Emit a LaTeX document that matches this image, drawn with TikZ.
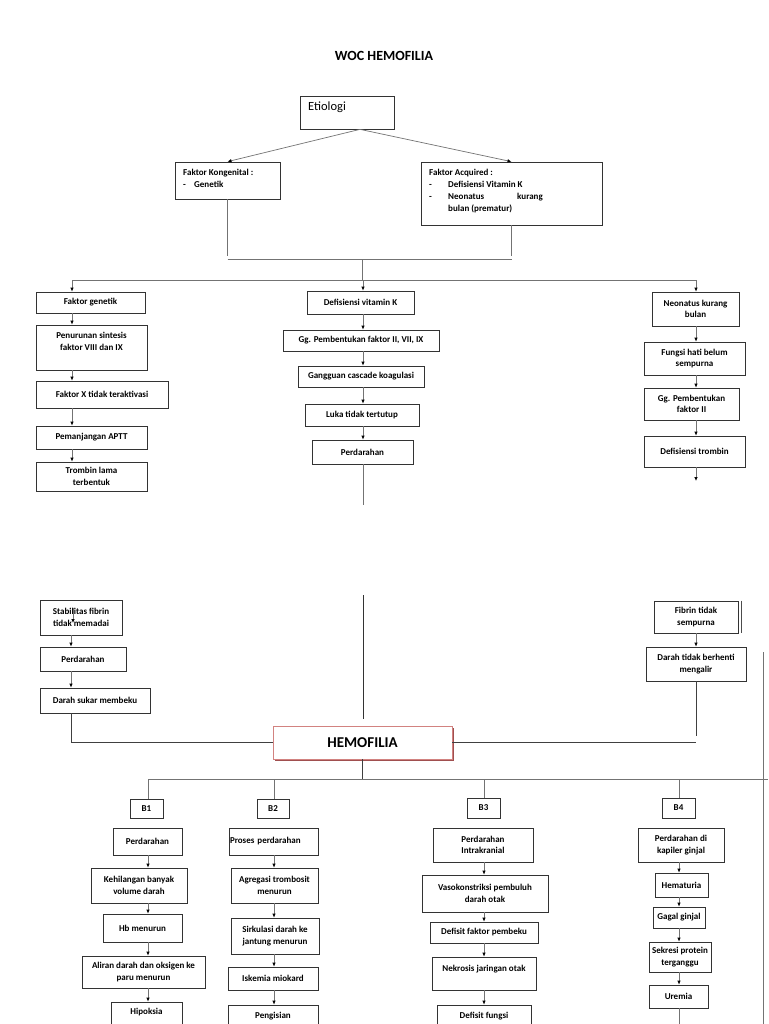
\documentclass[tikz,border=0pt]{standalone}
\usepackage{fontspec}
\setmainfont{Carlito}
\usetikzlibrary{arrows.meta,shadows}
\newcommand\mybox[7][]{\node[box,minimum width={#5pt-#3pt},minimum height={#6pt-#4pt},#1] (#2) at ({(#3+#5)/2},{(#4+#6)/2}) {#7};}
\newcommand\varr[3]{\draw[arr] (#2.south -| #1) -- (#3.north -| #1);}
\begin{document}
\begin{tikzpicture}[x=1pt,y=-1pt,
 box/.style={draw=black!80,line width=0.7pt,fill=white,align=center,inner sep=1pt,font=\fontsize{9}{11.5}\selectfont\bfseries},
 lbl/.style={align=center,inner sep=0pt,font=\fontsize{9}{11.5}\selectfont\bfseries},
 ln/.style={draw=black!55,line width=0.7pt},
 arr/.style={ln,-{Latex[length=4pt,width=3.5pt,black]}},
 lt/.style={anchor=base west,inner sep=0pt,font=\fontsize{9}{11}\selectfont\bfseries},
]
\useasboundingbox (0,0) rectangle (768,1024);
\fill[white] (0,0) rectangle (768,1024);

% title
\node[font=\fontsize{14}{16}\selectfont\bfseries] (title) at (384,56) {WOC HEMOFILIA};

% etiologi
\mybox{etio}{300}{96}{394}{129}{}
\node[anchor=base west,inner sep=0pt,font=\fontsize{12.5}{14}\selectfont] (etiot) at (308,111) {Etiologi};
\mybox{kong}{175}{162}{280}{199}{}
\node[lt] (k1) at (183,176) {Faktor Kongenital :};
\node[lt] (k2) at (183,188) {-};
\node[lt] (k3) at (194,188) {Genetik};
\mybox{acq}{421}{162}{602}{225}{}
\node[lt] (a1) at (429,176) {Faktor Acquired :};
\node[lt] (a2) at (429,188) {-};
\node[lt] (a3) at (448,188) {Defisiensi Vitamin K};
\node[lt] (a4) at (429,200) {-};
\node[lt] (a5) at (448,200) {Neonatus};
\node[lt] (a6) at (517,200) {kurang};
\node[lt] (a7) at (448,212) {bulan (prematur)};

\draw[arr] ([xshift=13pt]etio.south) -- (kong.north);
\draw[arr] ([xshift=13pt]etio.south) -- (acq.north);

\coordinate (j1) at (362,259);
\coordinate (j2) at (362,280);
\coordinate (xl) at (72,280);
\coordinate (xm) at (363,280);
\coordinate (xr) at (696,280);
\draw[ln] (kong.south) -- (kong.south |- 0,256);
\draw[ln] (acq.south) -- (acq.south |- 0,256);
\draw[ln] (kong.south |- j1) -- (acq.south |- j1);
\draw[ln] (j1) -- (j2);
\draw[ln] (xl) -- (xr);

% left column
\mybox{gen}{36}{292}{145}{313}{Faktor genetik}
\mybox[label={[lbl,yshift=6pt]center:Penurunan sintesis\\faktor VIII dan IX}]{pen}{36}{325}{147}{370}{}
\mybox{fx}{36}{381}{168}{408}{Faktor X tidak teraktivasi}
\mybox{aptt}{36}{426}{147}{449}{Pemanjangan APTT}
\mybox{trom}{36}{462}{147}{491}{Trombin lama\\terbentuk}
\draw[arr] (xl) -- (gen.north -| xl);
\varr{xl}{gen}{pen}
\varr{xl}{pen}{fx}
\varr{xl}{fx}{aptt}
\varr{xl}{aptt}{trom}

% middle column
\mybox{dvk}{307}{291}{414}{314}{Defisiensi vitamin K}
\mybox{gga}{283}{330}{439}{351}{Gg. Pembentukan faktor II, VII, IX}
\mybox{gck}{298}{366}{424}{387}{Gangguan cascade koagulasi}
\mybox{luka}{305}{404}{419}{426}{Luka tidak tertutup}
\mybox{pera}{312}{440}{413}{464}{Perdarahan}
\draw[arr] (xm) -- (dvk.north -| xm);
\varr{xm}{dvk}{gga}
\varr{xm}{gga}{gck}
\varr{xm}{gck}{luka}
\varr{xm}{luka}{pera}
\coordinate (me) at (363,505);
\draw[ln] (pera.south -| me) -- (me);

% right column
\mybox{neo}{652}{292}{739}{326}{Neonatus kurang\\bulan}
\mybox{fh}{644}{342}{745}{375}{Fungsi hati belum\\sempurna}
\mybox{ggb}{644}{388}{739}{420}{Gg. Pembentukan\\faktor II}
\mybox{dt}{644}{436}{745}{467}{Defisiensi trombin}
\draw[arr] (xr) -- (neo.north -| xr);
\varr{xr}{neo}{fh}
\varr{xr}{fh}{ggb}
\varr{xr}{ggb}{dt}
\coordinate (re) at (696,481);
\draw[arr] (dt.south -| re) -- (re);

% middle section
\coordinate (mt) at (363,595);
\coordinate (mb) at (363,719);
\draw[ln,draw=black!80] (mt) -- (mb);

\mybox{stab}{40}{600}{122}{635}{Stabilitas fibrin\\tidak memadai}
\mybox{perb}{40}{647}{126}{671}{Perdarahan}
\mybox{dsm}{40}{688}{150}{713}{Darah sukar membeku}
\coordinate (xs) at (71,0);
\coordinate (sa) at (73,608);
\coordinate (sb) at (73,623);
\draw[arr] (sa) -- (sb);
\varr{xs}{stab}{perb}
\varr{xs}{perb}{dsm}

\mybox{fib}{654}{601}{738}{633}{Fibrin tidak\\sempurna}
\draw[black!70,line width=0.6pt] ([xshift=2.5pt]fib.north east) -- ([xshift=2.5pt]fib.south east);
\mybox{dth}{646}{647}{746}{681}{Darah tidak berhenti\\mengalir}
\coordinate (xf) at (696,0);
\varr{xf}{fib}{dth}

\node[draw={rgb,255:red,210;green,130;blue,128},line width=0.8pt,fill=white,
  drop shadow={shadow xshift=1.6pt,shadow yshift=-1.6pt,fill={rgb,255:red,150;green,60;blue,60},opacity=0.9},
  minimum width=179pt,minimum height=33pt,font=\fontsize{15}{17}\selectfont\bfseries] (hemo) at (362.5,742.5) {HEMOFILIA};

\draw[ln,draw=black!75] (dsm.south -| xs) -- (xs |- hemo.west) -- (hemo.west);
\draw[ln,draw=black!75] (dth.south) -- ++(0,55);
\draw[ln,draw=black!75] (hemo.east) -- (hemo.east -| dth.south);

% right long line
\coordinate (rv1) at (763,652);
\coordinate (rv2) at (763,1024);
\draw[ln] (rv1) -- (rv2);

% bottom tree
\coordinate (hl) at (0,779);
\draw[ln,draw=black!75] (hemo.south) -- (hemo.south |- hl);
\coordinate (hl1) at (148,779);
\coordinate (hl2) at (768,779);
\draw[ln] (hl1) -- (hl2);

\mybox{ba}{130}{799}{163}{818}{B1}
\mybox{bb}{257}{799}{289}{818}{B2}
\mybox{bc}{467}{798}{500}{818}{B3}
\mybox{bd}{662}{798}{695}{818}{B4}
\coordinate (x1) at (148,0);
\coordinate (x2) at (274,0);
\coordinate (x3) at (484,0);
\coordinate (x4) at (679,0);
\draw[ln] (x1 |- hl) -- (ba.north -| x1);
\draw[ln] (x2 |- hl) -- (bb.north -| x2);
\draw[ln] (x3 |- hl) -- (bc.north -| x3);
\draw[ln] (x4 |- hl) -- (bd.north -| x4);

% B1
\mybox{pa}{113}{828}{182}{855}{Perdarahan}
\mybox{kb}{91}{868}{187}{903}{Kehilangan banyak\\volume darah}
\mybox{hb}{103}{914}{182}{942}{Hb menurun}
\mybox{al}{82}{956}{205}{988}{Aliran darah dan oksigen ke\\paru menurun}
\mybox[label={[lbl,yshift=9pt]center:Hipoksia}]{hip}{111}{1002}{182}{1040}{}
\varr{x1}{pa}{kb}
\varr{x1}{kb}{hb}
\varr{x1}{hb}{al}
\varr{x1}{al}{hip}

% B2
\mybox[text width=87pt,align=left]{pp}{229}{828}{318}{855}{Proses perdarahan}
\mybox{ag}{231}{868}{318}{903}{Agregasi trombosit\\menurun}
\mybox{sk}{231}{918}{319}{954}{Sirkulasi darah ke\\jantung menurun}
\mybox{isk}{228}{967}{318}{990}{Iskemia miokard}
\mybox[label={[lbl,yshift=6pt]center:Pengisian}]{pg}{228}{1005}{318}{1040}{}
\varr{x2}{pp}{ag}
\varr{x2}{ag}{sk}
\varr{x2}{sk}{isk}
\varr{x2}{isk}{pg}

% B3
\mybox{pi}{433}{828}{533}{862}{Perdarahan\\Intrakranial}
\mybox{vk}{422}{875}{548}{912}{Vasokonstriksi pembuluh\\darah otak}
\mybox{dfp}{430}{922}{538}{943}{Defisit faktor pembeku}
\mybox[label={[lbl,yshift=4pt]center:Nekrosis jaringan otak}]{nk}{432}{957}{536}{990}{}
\mybox[label={[lbl,yshift=6pt]center:Defisit fungsi}]{dfs}{437}{1005}{531}{1040}{}
\varr{x3}{pi}{vk}
\varr{x3}{vk}{dfp}
\varr{x3}{dfp}{nk}
\varr{x3}{nk}{dfs}

% B4
\mybox{pk}{638}{828}{724}{862}{Perdarahan di\\kapiler ginjal}
\mybox{hem}{655}{873}{708}{897}{Hematuria}
\mybox{gg}{653}{907}{705}{928}{Gagal ginjal}
\mybox{sp}{649}{942}{711}{972}{Sekresi protein\\terganggu}
\mybox{ur}{649}{985}{708}{1008}{Uremia}
\varr{x4}{pk}{hem}
\varr{x4}{hem}{gg}
\varr{x4}{gg}{sp}
\varr{x4}{sp}{ur}
\coordinate (ue) at (679,1024);
\draw[ln] (ur.south -| x4) -- (ue);
\end{tikzpicture}
\end{document}
